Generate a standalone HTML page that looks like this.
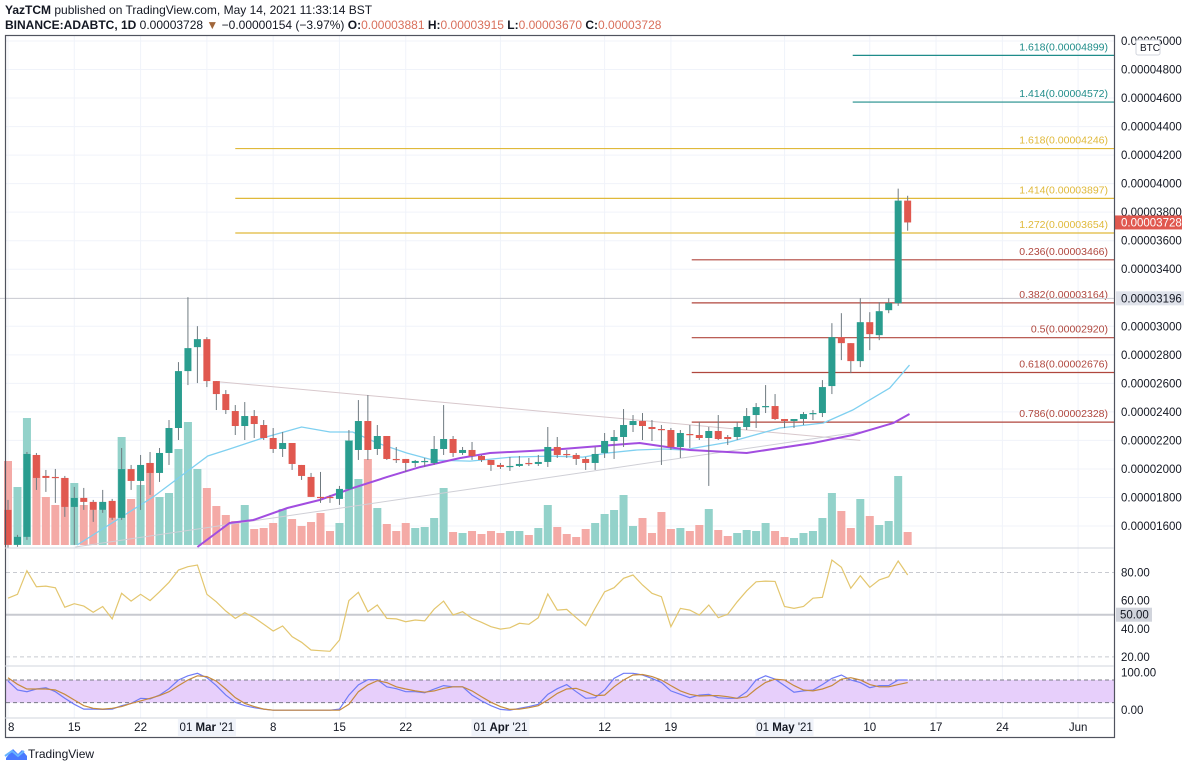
<!DOCTYPE html>
<html><head><meta charset="utf-8"><title>ADABTC chart</title>
<style>
html,body{margin:0;padding:0;background:#fff;}
body{width:1186px;height:768px;overflow:hidden;font-family:"Liberation Sans",sans-serif;}
svg text{font-family:"Liberation Sans",sans-serif;}
</style></head>
<body>
<svg id="chart" width="1186" height="768" viewBox="0 0 1186 768" xmlns="http://www.w3.org/2000/svg">
<g id="header">
<text x="5" y="14" font-size="12" fill="#131722"><tspan font-weight="bold">YazTCM</tspan> published on TradingView.com, May 14, 2021 11:33:14 BST</text>
<text x="5" y="29" font-size="12" fill="#131722"><tspan font-weight="bold">BINANCE:ADABTC, 1D</tspan> 0.00003728 <tspan fill="#a0663a">▼</tspan> −0.00000154 (−3.97%) <tspan font-weight="bold">O:</tspan><tspan fill="#d9705c">0.00003881</tspan> <tspan font-weight="bold">H:</tspan><tspan fill="#d9705c">0.00003915</tspan> <tspan font-weight="bold">L:</tspan><tspan fill="#d9705c">0.00003670</tspan> <tspan font-weight="bold">C:</tspan><tspan fill="#d9705c">0.00003728</tspan></text>
</g>
<g id="grid"></g>
<g id="panes"></g>
<g id="marks"></g>
<g id="axes"></g>
<rect x="5.5" y="35.5" width="1109" height="702" fill="none" stroke="#50535e" stroke-width="1.2"/>
<line x1="5" y1="548" x2="1114" y2="548" stroke="#d1d4dc"/>
<line x1="5" y1="666" x2="1114" y2="666" stroke="#d1d4dc"/>
<line x1="5" y1="718" x2="1114" y2="718" stroke="#d1d4dc"/>
<g>
<path d="M6 758 L13 749 L18 754 L22 750 L27 756 L27 760 L6 760 Z" fill="#2962ff" opacity="0.85"/>
<path d="M5 756 L12 751 L18 756 L24 751" fill="none" stroke="#67b5ff" stroke-width="2"/>
<text x="28" y="758" font-size="12" fill="#131722">TradingView</text>
</g>
</svg>
<script>
// ---------------- DATA ----------------
const opens  = [1713,1468,1524,2098,1951,1944,1937,1734,1797,1769,1713,1776,1657,1999,1916,2042,1972,2112,2287,2686,2854,2910,2616,2525,2406,2301,2371,2308,2217,2140,2182,2028,1944,1804,1804,1790,1860,2133,2336,2140,2231,2070,2070,2042,2049,2042,2140,2210,2112,2133,2091,2063,2028,2014,2021,2042,2035,2049,2154,2105,2098,2070,2042,2112,2196,2224,2308,2336,2294,2280,2273,2154,2245,2238,2217,2266,2224,2224,2294,2378,2434,2441,2350,2336,2350,2385,2392,2581,2924,2882,2756,3029,2938,3113,3162,3881];
const highs  = [1783,1538,2119,2112,1993,2000,1951,1874,1867,1783,1853,1790,2147,2028,2098,2119,2147,2343,2749,3204,3001,2924,2616,2553,2448,2469,2413,2343,2287,2259,2182,2028,1972,1979,1818,1881,2273,2483,2518,2308,2231,2154,2070,2063,2077,2231,2448,2231,2154,2189,2098,2063,2042,2084,2091,2077,2098,2294,2224,2133,2112,2084,2154,2252,2273,2420,2378,2392,2343,2308,2287,2273,2308,2329,2294,2378,2238,2329,2427,2462,2588,2525,2350,2343,2399,2413,2623,3022,3092,2882,3197,3099,3169,3197,3965,3915];
const lows   = [1447,1454,1503,1853,1839,1762,1664,1468,1713,1629,1692,1643,1643,1853,1713,1818,1909,2028,2203,2588,2602,2574,2413,2385,2238,2203,2217,2203,2112,2084,1993,1923,1804,1762,1762,1748,1853,2063,2063,2098,2063,2042,1979,2014,2014,2028,2098,2084,2098,2063,2049,1986,2000,1986,2014,2021,2021,2014,2077,2077,2028,1993,1993,2077,2070,2154,2259,2203,2196,2028,2133,2077,2147,2203,1881,2203,2168,2203,2273,2287,2392,2343,2287,2287,2308,2343,2364,2525,2763,2672,2714,2833,2903,3092,3143,3670];
const closes = [1468,1524,2105,1937,1937,1937,1734,1797,1769,1713,1769,1657,1999,1916,2028,1972,2112,2287,2686,2847,2910,2616,2525,2413,2301,2371,2315,2217,2140,2182,2035,1951,1804,1797,1797,1860,2196,2336,2133,2231,2070,2063,2042,2056,2056,2140,2210,2112,2133,2091,2063,2028,2014,2021,2035,2035,2049,2154,2098,2098,2070,2042,2105,2196,2224,2308,2336,2301,2280,2273,2154,2252,2238,2217,2266,2210,2210,2294,2371,2434,2441,2350,2336,2350,2385,2392,2574,2924,2882,2756,3029,2945,3106,3162,3881,3728];
const volumes = [84,58,127,90,48,40,67,62,40,35,35,27,108,46,60,82,48,52,96,123,76,57,39,30,24,40,16,17,22,36,26,19,23,32,14,22,105,66,86,37,21,14,22,17,18,27,57,13,12,14,11,14,12,14,14,10,17,40,18,11,8,16,22,31,35,50,19,27,12,33,16,17,14,20,36,15,9,12,15,14,22,14,8,7,12,14,27,52,34,17,46,29,20,24,69,13];
const ma20Days = [7.3,15.3,21.1,23.4,26.9,31,34,36.4,39,42.1,44.9,48.8,53.2,57.2,60.7,63.3,66.4,69.2,71.3,76.2,81.5,86.1,89.2,93.1,95.2];
const ma20Vals = [1467,1803,2091,2140,2217,2294,2259,2259,2182,2112,2062,2055,2083,2090,2083,2112,2133,2140,2133,2189,2287,2322,2413,2567,2728];
const ma50Days = [20,23.4,25.9,29.5,32.9,36.4,40,43.5,47.7,50.9,57.2,62.5,66.7,69.6,72,78,85,89.2,93.5,95.2];
const ma50Vals = [1453,1621,1642,1726,1782,1866,1943,2013,2076,2112,2133,2161,2182,2154,2133,2112,2182,2238,2322,2385];
const rsiVals = [61.7,64.5,81.3,69.9,70.3,69.1,55.3,57.8,56.1,51.7,55.8,47,65.2,59.7,64.5,60,66.3,73,81.8,84.1,85.3,64.5,59.2,52.6,47.4,51.4,47.9,43.2,38.4,42,34.4,30.4,24.9,24.4,24,32,60,65.9,52.1,56.9,47.4,47,45,46.2,45.6,54,59.7,49.8,52.1,47.4,44.6,41.5,39.8,40.7,43.9,43.2,47.9,64.7,53.3,53.8,47.9,42.2,54.5,66.3,69.2,75.9,78.2,71.1,65.2,62.8,41.5,54.5,53.3,49.8,56.9,47.9,50.3,59.2,67,73.4,73.9,73.7,55.8,54.5,55.8,61.7,62.4,88.9,83.7,68.8,77.7,69.5,74.7,77,88.2,78.2];
const stochK = [77,53.4,49,56,59.5,49,31.5,15.6,3,3,2,3,12,18,31.5,30,40,57,80,91,97.5,86,65,40,21,12,6.6,3,0,0,0,0,0,0,0,3,40,67,80.6,80.6,62,57,49,49,46,56,65,62,62,40,24.7,12,2,0,5,9.5,15.6,42,57,67.6,49,31.5,33,53.4,84,97.5,97.5,93,84,73.5,51,42,33,40,42,33,31.5,31.5,49,80,91,82,65,47.5,51,53.4,67.6,84,93,80,73,59.5,65,65,80,80];
const stochD = [86,68.5,56,56,56,53.4,42,27,12,5,3,5,9.5,18,24.7,31.5,38.5,49,65,80,91,89,77,56,33,18,9.5,3,0,0,0,0,0,0,0,0,15.6,49,67,78,73,62,56,51,47.5,51,58,62,62,51,35.7,21,9.5,2,3,6.6,12,27,44.5,56,58,49,38.5,40,62,80,93,94.5,89,80,65,51,42,37.5,38.5,38.5,35.7,31.5,35.7,56,73.5,82,80,65,53.4,51,56,65,82,86,80,67.6,62,62,67.6,73];
const fibLabels = ["1.618","1.414","1.618","1.414","1.272","0.236","0.382","0.5","0.618","0.786"];
const fibPrices = [4899,4572,4246,3897,3654,3466,3164,2920,2676,2328];
const fibStartDay = [89.2,89.2,24,24,24,72.2,72.2,72.2,72.2,72.2];
const fibColors = ["#1f8c8a","#1f8c8a","#e0b93a","#e0b93a","#e0b93a","#b0473e","#b0473e","#b0473e","#b0473e","#b0473e"];
const priceTicks = [5000,4800,4600,4400,4200,4000,3800,3600,3400,3000,2800,2600,2400,2200,2000,1800,1600];
const rsiTicks = [80,60,40,20];
const stochTicks = [100,0];
const dateTickDays = [0,7,14,21,28,35,42,52,63,70,82,91,98,105,113];
const dateTickLabels = ["8","15","22","01 Mar '21","8","15","22","01 Apr '21","12","19","01 May '21","10","17","24","Jun"];
const trendDown = [[21.9,2613],[90,2200]];
const trendUp = [[7.1,1453],[90,2260]];
const lastPrice = 3728, markedPrice = 3196;

// ---------------- AXES ----------------
const NS = "http://www.w3.org/2000/svg";
const X0 = 8, DX = 9.47;
const xDay = d => X0 + d * DX;
const yPrice = p => 41 + (5000 - p) * 28.53 / 200;
const yVol = v => 545 - v;
const yRsi = v => 614.7 - (v - 50) * 1.407;
const yStoch = v => 710.2 - v * 0.378;
function mk(tag, attrs, parent){const e=document.createElementNS(NS,tag);for(const k in attrs)e.setAttribute(k,attrs[k]);parent.appendChild(e);return e;}
const grid=document.getElementById('grid'), panes=document.getElementById('panes'), marks=document.getElementById('marks'), axes=document.getElementById('axes');
const fmt = p => "0.0000" + String(Math.round(p)).padStart(4,"0");

dateTickDays.forEach(d=>{const l=mk('line',{x1:xDay(d),x2:xDay(d),y1:36,y2:718,stroke:'#f0f3fa'},grid);

});
priceTicks.forEach(p=>{const l=mk('line',{x1:6,x2:1114,y1:yPrice(p),y2:yPrice(p),stroke:'#f0f3fa'},grid);

});

const band=mk('rect',{x:6,y:yStoch(80),width:1108,height:yStoch(20)-yStoch(80),fill:'#e7cffb'},panes);


[80,20].forEach(v=>{const l=mk('line',{x1:6,x2:1114,y1:yStoch(v),y2:yStoch(v),stroke:'#787b86','stroke-dasharray':'4,3'},panes);

});
[80,20].forEach(v=>{const l=mk('line',{x1:6,x2:1114,y1:yRsi(v),y2:yRsi(v),stroke:'#c8cad0','stroke-dasharray':'4,3'},panes);

});
const r50=mk('line',{x1:6,x2:1114,y1:yRsi(50),y2:yRsi(50),stroke:'#c8cad0','stroke-width':2},panes);



volumes.forEach((v,i)=>{const up=closes[i]>=opens[i];
const r=mk('rect',{x:xDay(i)-4,y:yVol(v),width:8,height:v,fill:up?'#93d2ca':'#f4aaa6'},marks);

});

fibPrices.forEach((p,i)=>{const y=yPrice(p);
const l=mk('line',{x1:xDay(fibStartDay[i]),x2:1114,y1:y,y2:y,stroke:fibColors[i],'stroke-width':1.2},marks);


const t=mk('text',{x:1108,y:y-5,'font-size':10.5,fill:fibColors[i],'text-anchor':'end'},marks);
t.textContent=fibLabels[i]+"("+fmt(p)+")";

});
const mp=mk('line',{x1:0,x2:1114,y1:yPrice(markedPrice),y2:yPrice(markedPrice),stroke:'#c8cad0'},marks);



[[trendDown,'#d8c8cc'],[trendUp,'#cfcfd6']].forEach(([tl,c],k)=>{const l=mk('line',{x1:xDay(tl[0][0]),y1:yPrice(tl[0][1]),x2:xDay(tl[1][0]),y2:yPrice(tl[1][1]),stroke:c},marks);

});

function poly(days,vals,fy,color,w,name){const pts=days.map((d,i)=>xDay(d).toFixed(1)+','+fy(vals[i]).toFixed(1)).join(' ');
const p=mk('polyline',{points:pts,fill:'none',stroke:color,'stroke-width':w},marks);

}
poly(ma20Days,ma20Vals,yPrice,'#7fd0f0',1.3,'ma-fast-line');
poly(ma50Days,ma50Vals,yPrice,'#a24de0',2,'ma-slow-line');

opens.forEach((o,i)=>{const c=closes[i],up=c>=o,col=up?'#2a9d8f':'#e0584f',x=xDay(i);
const w=mk('line',{x1:x,x2:x,y1:yPrice(highs[i]),y2:yPrice(lows[i]),stroke:'#6f7a80','stroke-width':1},marks);


const top=yPrice(Math.max(o,c)),bot=yPrice(Math.min(o,c));
const b=mk('rect',{x:x-3.5,y:top,width:7,height:Math.max(1.2,bot-top),fill:col},marks);

});

poly(rsiVals.map((v,i)=>i),rsiVals,yRsi,'#e3c66e',1.2,'rsi-line');
poly(stochK.map((v,i)=>i),stochK,yStoch,'#6f7bf7',1.2,'stoch-k-line');
poly(stochD.map((v,i)=>i),stochD,yStoch,'#c68a3e',1.2,'stoch-d-line');

priceTicks.forEach(p=>{const t=mk('text',{x:1121,y:yPrice(p)+4,'font-size':11.5,fill:'#131722'},axes);t.textContent=fmt(p);

});
const btc=mk('rect',{x:1136,y:40,width:24,height:15,fill:'#fff',stroke:'#d1d4dc',rx:2},axes);


const bt=mk('text',{x:1140,y:51,'font-size':10,fill:'#131722'},axes);bt.textContent="BTC";


const lpY=yPrice(lastPrice);
const lp=mk('rect',{x:1114,y:lpY-7,width:68,height:14,fill:'#e0584f'},axes);


const lpt=mk('text',{x:1121,y:lpY+4,'font-size':11.5,fill:'#fff'},axes);lpt.textContent=fmt(lastPrice);


const mpY=yPrice(markedPrice);
const mb=mk('rect',{x:1116,y:mpY-7,width:68,height:14,fill:'#e0e3eb'},axes);


const mbt=mk('text',{x:1121,y:mpY+4,'font-size':11.5,fill:'#131722'},axes);mbt.textContent=fmt(markedPrice);


rsiTicks.forEach(v=>{const t=mk('text',{x:1121,y:yRsi(v)+4,'font-size':11.5,fill:'#131722'},axes);t.textContent=v.toFixed(2);

});
const rb=mk('rect',{x:1116,y:yRsi(50)-7,width:36,height:14,fill:'#d1d4dc'},axes);


const rbt=mk('text',{x:1120,y:yRsi(50)+4,'font-size':11.5,fill:'#131722'},axes);rbt.textContent="50.00";


stochTicks.forEach(v=>{const t=mk('text',{x:1121,y:yStoch(v)+4,'font-size':11.5,fill:'#131722'},axes);t.textContent=v.toFixed(2);

});

dateTickDays.forEach((d,i)=>{const lab=dateTickLabels[i];const x=xDay(d);
if(lab.length>3){const bg=mk('rect',{x:x-29,y:719,width:58,height:17,fill:'#f0f3fa'},axes);

}
const t=mk('text',{x:x,y:731,'font-size':11.5,fill:'#131722','text-anchor':(d===0?'start':'middle')},axes);
if(lab.length>3){const parts=lab.split(' ');
const a=mk('tspan',{},t);a.textContent=parts[0]+' ';
const b=mk('tspan',{'font-weight':'bold'},t);b.textContent=parts[1];
const c=mk('tspan',{},t);c.textContent=' '+parts[2];}
else t.textContent=lab;

});
</script>
</body></html>
